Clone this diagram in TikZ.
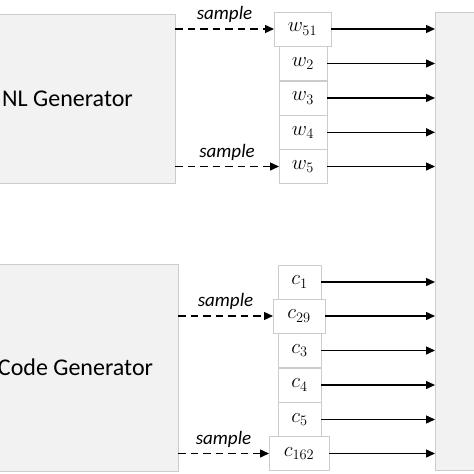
\documentclass[tikz,border=0pt]{standalone}
\usepackage{fontspec}
\setmainfont{Carlito}
\usetikzlibrary{arrows.meta}

\begin{document}
\begin{tikzpicture}[x=1pt,y=-1pt,
  genbox/.style={draw=gray!40,fill=gray!10,line width=0.8pt,outer sep=0pt,font=\fontsize{24}{28}\selectfont},
  tokbox/.style={draw=gray!40,fill=white,line width=0.8pt,outer sep=0pt,inner sep=0pt,minimum height=34pt,font=\fontsize{22}{26}\selectfont},
  feed/.style={-{Triangle[length=9pt,width=8pt]},line width=1.4pt},
  samp/.style={feed,dash pattern=on 7.5pt off 5pt},
  samplab/.style={midway,above=2pt,font=\fontsize{19}{22}\selectfont\itshape}]
\useasboundingbox (0,0) rectangle (474,474);
\clip (0,0) rectangle (474,474);
\node[genbox,minimum width=215pt,minimum height=169pt] (nlgen) at (67.5,98.5) {NL Generator};
\node[genbox,minimum width=205pt,minimum height=207pt] (codegen) at (75.5,367.5) {Code Generator};
\node[genbox,minimum width=70pt,minimum height=458pt] (target) at (470,241) {};
\node[tokbox,minimum width=57pt] (w1) at (302.5,29) {$w_{51}$};
\node[tokbox,minimum width=48pt] (w2) at (303,63.5) {$w_2$};
\node[tokbox,minimum width=48pt] (w3) at (303,98) {$w_3$};
\node[tokbox,minimum width=48pt] (w4) at (303,132.3) {$w_4$};
\node[tokbox,minimum width=48pt] (w5) at (303,166.5) {$w_5$};
\node[tokbox,minimum width=43pt] (c1) at (299.5,282) {$c_1$};
\node[tokbox,minimum width=52pt] (c2) at (299,316) {$c_{29}$};
\node[tokbox,minimum width=43pt] (c3) at (299.5,350.5) {$c_3$};
\node[tokbox,minimum width=43pt] (c4) at (299.5,385) {$c_4$};
\node[tokbox,minimum width=43pt] (c5) at (299.5,419.5) {$c_5$};
\node[tokbox,minimum width=60pt] (c6) at (299,453.5) {$c_{162}$};
\draw[samp] (w1.west -| nlgen.east) -- (w1.west) node[samplab] {sample};
\draw[samp] (w5.west -| nlgen.east) -- (w5.west) node[samplab] {sample};
\draw[samp] (c2.west -| codegen.east) -- (c2.west) node[samplab] {sample};
\draw[samp] (c6.west -| codegen.east) -- (c6.west) node[samplab] {sample};
\draw[feed] (w1.east) -- (w1.east -| target.west);
\draw[feed] (w2.east) -- (w2.east -| target.west);
\draw[feed] (w3.east) -- (w3.east -| target.west);
\draw[feed] (w4.east) -- (w4.east -| target.west);
\draw[feed] (w5.east) -- (w5.east -| target.west);
\draw[feed] (c1.east) -- (c1.east -| target.west);
\draw[feed] (c2.east) -- (c2.east -| target.west);
\draw[feed] (c3.east) -- (c3.east -| target.west);
\draw[feed] (c4.east) -- (c4.east -| target.west);
\draw[feed] (c5.east) -- (c5.east -| target.west);
\draw[feed] (c6.east) -- (c6.east -| target.west);
\end{tikzpicture}
\end{document}
